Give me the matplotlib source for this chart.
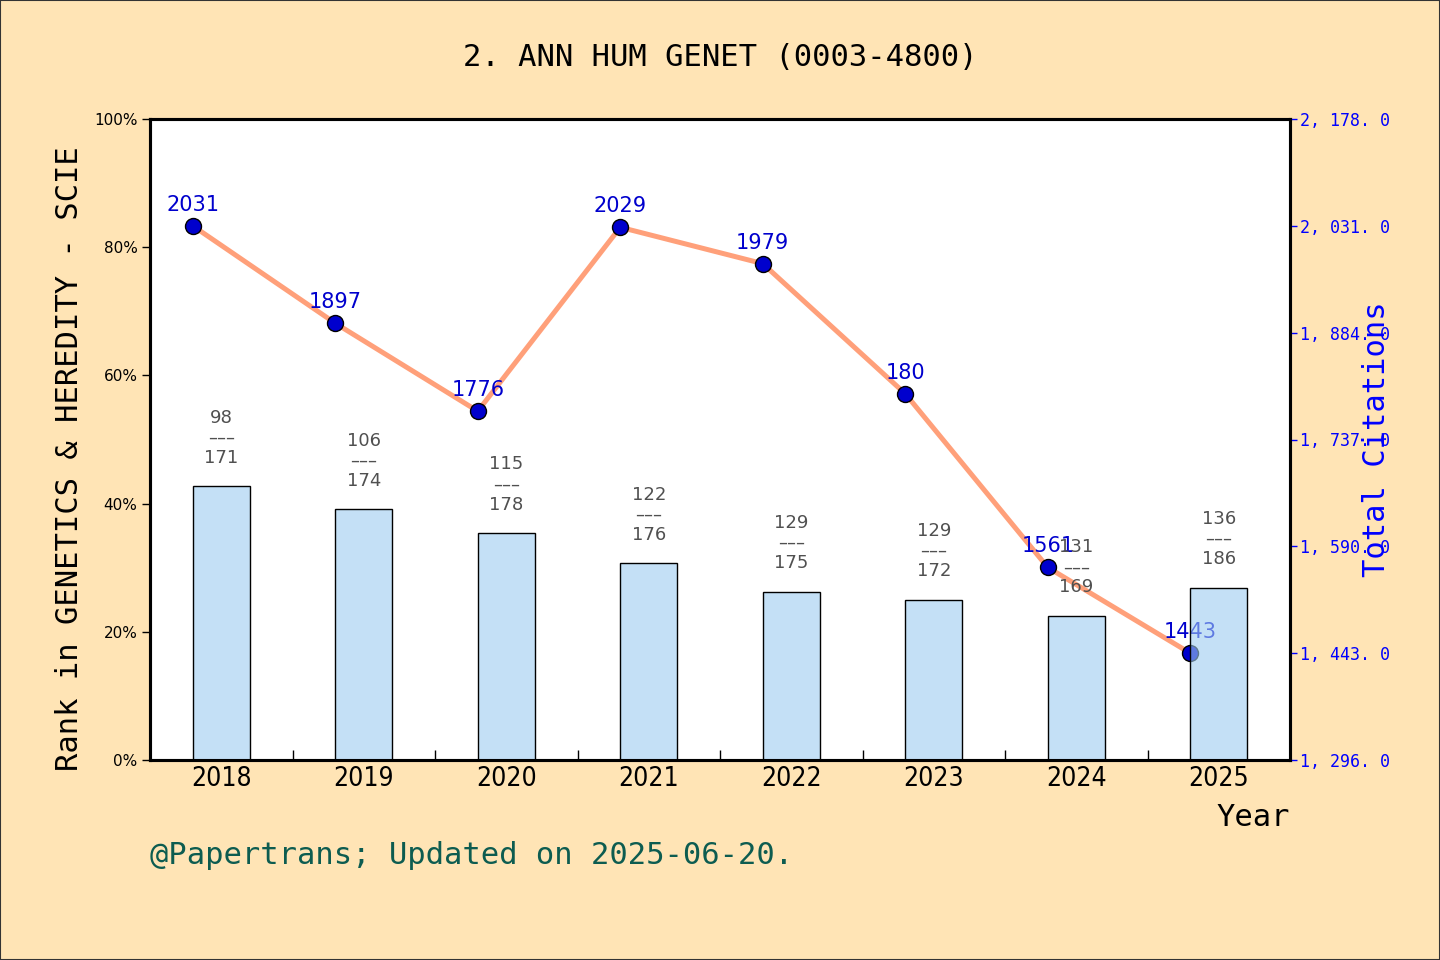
import matplotlib
matplotlib.use('Agg')
import matplotlib.pyplot as plt
from matplotlib import font_manager
from matplotlib.ticker import PercentFormatter, FixedLocator, FuncFormatter
from matplotlib.patches import Rectangle

years = ['2018', '2019', '2020', '2021', '2022', '2023', '2024', '2025']
ranks = [98, 106, 115, 122, 129, 129, 131, 136]
totals = [171, 174, 178, 176, 175, 172, 169, 186]
citations = [2031, 1897, 1776, 2029, 1979, 1800, 1561, 1443]
cite_labels = ['2031', '1897', '1776', '2029', '1979', '180', '1561', '1443']

title = '2. ANN HUM GENET (0003-4800)'
left_label = 'Rank in GENETICS & HEREDITY - SCIE'
right_label = 'Total Citations'
footer = '@Papertrans; Updated on 2025-06-20.'

cite_min, cite_max, cite_step = 1296, 2178, 147

mono = 'DejaVu Sans Mono'
# a condensed face for the year labels, if one is around
condensed = [f for f in font_manager.fontManager.ttflist
             if f.name == 'DejaVu Sans' and f.stretch == 'condensed' and f.style == 'normal']
year_font = dict(family='DejaVu Sans', fontstretch='condensed', fontsize=19) if condensed \
    else dict(family='DejaVu Sans', fontsize=17)

# share of journals ranked below this one
pct = [1 - r / t for r, t in zip(ranks, totals)]
x = list(range(len(years)))

fig = plt.figure(figsize=(14.4, 9.6), dpi=100, facecolor='#ffe4b5')
ax = fig.add_axes([150 / 1440, 1 - 760 / 960, 1140 / 1440, 641 / 960])
ax2 = ax.twinx()

# bars sit above the line so the last point shows through them
ax.set_zorder(2)
ax.patch.set_visible(False)
ax2.set_zorder(1)
ax2.patch.set_facecolor('white')
ax2.patch.set_visible(True)

ax.bar(x, pct, width=0.4, facecolor=(0.62, 0.8, 0.94, 0.6), edgecolor='black', linewidth=1)
for i, p in enumerate(pct):
    ax.annotate(f'{ranks[i]}\n–––\n{totals[i]}', (i, p), xytext=(0, 14), textcoords='offset points',
                ha='center', va='bottom', fontsize=13, color='#505050', linespacing=1.15)

ax.set_xlim(-0.5, len(years) - 0.5)
ax.set_ylim(0, 1)
ax.yaxis.set_major_locator(FixedLocator([0, 0.2, 0.4, 0.6, 0.8, 1.0]))
ax.yaxis.set_major_formatter(PercentFormatter(1.0, decimals=0))
ax.tick_params(axis='y', direction='out', length=6, width=1, labelsize=11, pad=3)
ax.set_xticks(x)
ax.set_xticklabels(years, **year_font)
ax.tick_params(axis='x', length=0, pad=4)
ax.set_xticks([i + 0.5 for i in x[:-1]], minor=True)
ax.tick_params(axis='x', which='minor', direction='in', length=7, width=1)

xl = [i - 0.2 for i in x]
ax2.plot(xl, citations, color='#ffa07a', linewidth=3.6, marker='o', markersize=11.5,
         markerfacecolor='#0000cd', markeredgecolor='black', markeredgewidth=1)
for xi, c, lab in zip(xl, citations, cite_labels):
    ax2.annotate(lab, (xi, c), xytext=(0, 8), textcoords='offset points',
                 ha='center', va='bottom', fontsize=15, color='#0000cd')

ax2.set_ylim(cite_min, cite_max)
ax2.yaxis.set_major_locator(FixedLocator(list(range(cite_min, cite_max + 1, cite_step))))
ax2.yaxis.set_major_formatter(FuncFormatter(
    lambda v, p: f'{v:,.1f}'.replace(',', ', ').replace('.', '. ')))
ax2.tick_params(axis='y', direction='out', length=5, width=1, colors='blue', labelsize=12, pad=2)
for lab in ax2.get_yticklabels():
    lab.set_family(mono)

for a in (ax, ax2):
    for s in a.spines.values():
        s.set_linewidth(2.2)
        s.set_color('black')

ax.set_ylabel(left_label, family=mono, fontsize=22)
ax.yaxis.set_label_coords(-0.058, 0.47)
ax2.set_ylabel(right_label, family=mono, fontsize=22, color='blue')
ax2.yaxis.set_label_coords(1.063, 0.5)

fig.text(0.5, 1 - 57 / 960, title, family=mono, fontsize=22, ha='center', va='center')
fig.text(1290 / 1440, 1 - 817 / 960, 'Year', family=mono, fontsize=22, ha='right', va='center')
fig.text(150 / 1440, 1 - 855 / 960, footer, family=mono, fontsize=22, ha='left', va='center',
         color='#0d5c50')

fig.patches.append(Rectangle((0, 0), 1, 1, transform=fig.transFigure, fill=False,
                             edgecolor='#333333', linewidth=1.5))

fig.savefig('out.png', dpi=100, facecolor=fig.get_facecolor())
